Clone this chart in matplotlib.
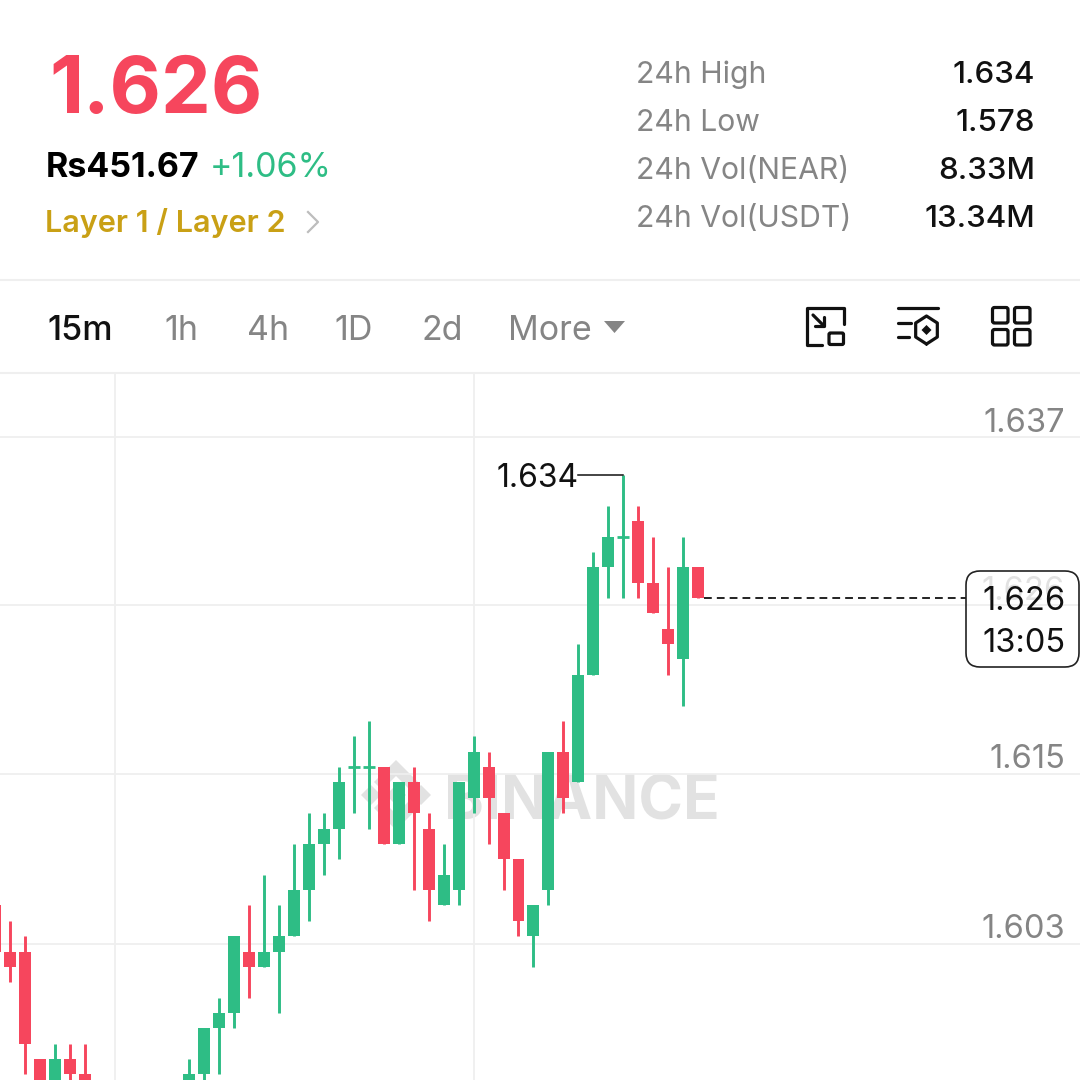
import numpy as np
import matplotlib
matplotlib.use("Agg")
import matplotlib.pyplot as plt
from matplotlib.patches import FancyBboxPatch, Polygon

plt.rcParams['font.family'] = ['Inter', 'DejaVu Sans']

# candle values (slots 7-12 are below the visible area)
slots = [0, 1, 2, 3, 4, 5, 6, 13, 14, 15, 16, 17, 18, 19, 20, 21, 22, 23, 24, 25, 26, 27,
         28, 29, 30, 31, 32, 33, 34, 35, 36, 37, 38, 39, 40, 41, 42, 43, 44, 45, 46, 47]
opens = [1.606, 1.603, 1.603, 1.596, 1.593, 1.596, 1.595, 1.593, 1.595, 1.598, 1.599, 1.603, 1.602, 1.603,
         1.604, 1.607, 1.610, 1.611, 1.615, 1.615, 1.615, 1.610, 1.614, 1.611, 1.606, 1.607, 1.613, 1.615,
         1.612, 1.609, 1.604, 1.607, 1.616, 1.614, 1.621, 1.628, 1.630, 1.631, 1.627, 1.624, 1.622, 1.628]
highs = [1.606, 1.605, 1.604, 1.596, 1.597, 1.597, 1.597, 1.596, 1.598, 1.600, 1.604, 1.606, 1.608, 1.606,
         1.610, 1.612, 1.612, 1.615, 1.617, 1.618, 1.615, 1.614, 1.615, 1.612, 1.610, 1.614, 1.617, 1.616,
         1.612, 1.609, 1.606, 1.616, 1.618, 1.623, 1.629, 1.632, 1.634, 1.632, 1.630, 1.628, 1.630, 1.628]
lows = [1.603, 1.601, 1.595, 1.593, 1.593, 1.593, 1.592, 1.593, 1.593, 1.595, 1.598, 1.600, 1.602, 1.599,
        1.604, 1.605, 1.608, 1.609, 1.612, 1.611, 1.610, 1.610, 1.607, 1.605, 1.606, 1.606, 1.612, 1.610,
        1.607, 1.604, 1.602, 1.606, 1.612, 1.614, 1.621, 1.626, 1.626, 1.626, 1.625, 1.621, 1.619, 1.626]
closes = [1.603, 1.602, 1.597, 1.593, 1.596, 1.595, 1.593, 1.595, 1.598, 1.599, 1.604, 1.602, 1.603, 1.604,
          1.607, 1.610, 1.611, 1.614, 1.615, 1.615, 1.610, 1.614, 1.612, 1.607, 1.608, 1.614, 1.616, 1.613,
          1.609, 1.605, 1.606, 1.616, 1.613, 1.621, 1.628, 1.630, 1.630, 1.627, 1.625, 1.623, 1.628, 1.626]

grid_prices = [1.63647, 1.62554, 1.61455, 1.60350]
grid_labels = ['1.637', '1.626', '1.615', '1.603']
time_grid_slots = [8, 32]

last_price = 1.626
day_high = 1.634
countdown = '13:05'

stat_names = ['24h High', '24h Low', '24h Vol(NEAR)', '24h Vol(USDT)']
stat_values = ['1.634', '1.578', '8.33M', '13.34M']
intervals = ['15m', '1h', '4h', '1D', '2d', 'More']
interval_x = [47, 164, 247, 334, 422, 508]

GREEN = '#2ebd85'
RED = '#f6465d'
GRID = '#efefef'
GREY = '#858585'
INK = '#111111'
MARK = '#e2e2e2'

fig = plt.figure(figsize=(10.8, 10.8), dpi=100)

# overlay in pixel coordinates for the page header and chrome
page = fig.add_axes([0, 0, 1, 1], zorder=1)
page.set_xlim(0, 1080)
page.set_ylim(1080, 0)
page.axis('off')

# chart area: y pixels 373-1080
chart = fig.add_axes([0, 0, 1, 707 / 1080], zorder=2)
chart.patch.set_alpha(0)
slot_px = 14.957
chart.set_xlim(5 / slot_px, (1080 + 5) / slot_px)
price_at = lambda y: 1.626 + (598 - y) / 15370
chart.set_ylim(price_at(1080), price_at(373))
chart.axis('off')

for p in grid_prices:
    chart.axhline(p, color=GRID, lw=1.3, zorder=1)
for s in time_grid_slots:
    chart.axvline(s, color=GRID, lw=1.3, zorder=1)

# watermark
page.text(582, 797, 'BINANCE', fontsize=43.5, fontweight='bold', color=MARK,
          ha='center', va='center_baseline', zorder=1)
logo = [
    [(396, 760), (418, 782), (410, 790), (396, 776), (382, 790), (374, 782)],
    [(396, 830), (418, 808), (410, 800), (396, 814), (382, 800), (374, 808)],
    [(386, 795), (396, 785), (406, 795), (396, 805)],
    [(361, 795), (371, 785), (381, 795), (371, 805)],
    [(411, 795), (421, 785), (431, 795), (421, 805)],
]
for pts in logo:
    page.add_patch(Polygon(pts, color=MARK, lw=0, zorder=1))

# candles
colors = [GREEN if c >= o else RED for o, c in zip(opens, closes)]
chart.vlines(slots, lows, highs, colors=colors, lw=2.1, zorder=3)
bottoms = [min(o, c) for o, c in zip(opens, closes)]
heights = [abs(o - c) for o, c in zip(opens, closes)]
chart.bar(slots, heights, bottom=bottoms, width=0.8, color=colors, lw=0, zorder=3)
for s, o, c, col in zip(slots, opens, closes, colors):
    if o == c:
        chart.hlines(o, s - 0.4, s + 0.4, color=col, lw=2.0, zorder=3)

# price labels on the right
for p, lab in zip(grid_prices, grid_labels):
    faded = lab == '1.626'
    chart.annotate(lab, (1065, p), xycoords=('figure pixels', 'data'), xytext=(0, 14),
                   textcoords='offset pixels', ha='right', va='center', fontsize=23.5,
                   color='#e2e2e2' if faded else GREY, zorder=2)

# high marker
hi_slot = slots[int(np.argmax(highs))]
chart.plot([hi_slot, hi_slot - 3.0], [day_high, day_high], color=INK, lw=1.1, zorder=4)
chart.annotate(f'{day_high:.3f}', (hi_slot - 3.0, day_high), xytext=(0, -3),
               textcoords='offset pixels', ha='right', va='center', fontsize=23, color=INK, zorder=4)

# last price line and tag
chart.plot([slots[-1] + 0.4, (966 + 5) / slot_px], [last_price, last_price], color='#222222',
           lw=1.4, dashes=(4, 2.6), zorder=4)
page2 = fig.add_axes([0, 0, 1, 1], zorder=3)
page2.set_xlim(0, 1080)
page2.set_ylim(1080, 0)
page2.axis('off')
page2.add_patch(FancyBboxPatch((976, 581), 93, 76, boxstyle='round,pad=10,rounding_size=14',
                               fc='none', ec='#222222', lw=1.2))
page2.text(1024, 602, f'{last_price:.3f}', fontsize=23.5, color=INK, ha='center', va='center')
page2.text(1024, 644, countdown, fontsize=23.5, color=INK, ha='center', va='center')

# header
page.text(49, 92, '1.626', fontsize=57, fontweight='bold', color=RED, va='center')
page.text(46, 168, 'Rs451.67', fontsize=24.5, fontweight='bold', color='black', va='center')
page.text(210, 168, '+1.06%', fontsize=24.5, color=GREEN, va='center')
page.text(45, 223, 'Layer 1 / Layer 2', fontsize=22, fontweight='semibold', color='#c9a015', va='center')
page.plot([308, 318, 308], [212, 222, 232], color='#bdbdbd', lw=1.6)

for y, name, val in zip([75, 123, 171, 219], stat_names, stat_values):
    page.text(636, y, name, fontsize=21.7, color=GREY, va='center')
    page.text(1035, y, val, fontsize=22.5, fontweight='medium', color=INK, ha='right', va='center')

page.plot([0, 1080], [280, 280], color=GRID, lw=1.5)
page.plot([0, 1080], [373, 373], color=GRID, lw=1.5)

# interval tabs
for i, (lab, x) in enumerate(zip(intervals, interval_x)):
    page.text(x, 331, lab, fontsize=24.5, color=INK if i == 0 else GREY,
              fontweight='medium' if i == 0 else 'normal', va='center')
page.add_patch(Polygon([(604, 321), (625, 321), (614.5, 333)], color=GREY, lw=0))

# toolbar icons
ik = dict(color=INK, lw=2.3, solid_capstyle='round', solid_joinstyle='round')
page.plot([822, 806.5, 806.5, 844, 844], [344.5, 344.5, 307.5, 307.5, 324], **ik)
page.add_patch(FancyBboxPatch((829, 333), 14.5, 11.5, boxstyle='round,pad=0,rounding_size=1.5',
                              fc='none', ec=INK, lw=2.3))
page.plot([813, 824], [315, 326], **ik)
page.plot([824, 824, 815], [317, 326, 326], **ik)

page.plot([898, 938], [308, 308], **ik)
page.plot([898, 911], [323, 323], **ik)
page.plot([898, 909], [337, 337], **ik)
ang = np.radians([90, 150, 210, 270, 330, 30, 90])
page.plot(926.5 + 12.5 * np.cos(ang), 330 + 14 * np.sin(ang), **ik)
page.add_patch(Polygon([(921.5, 330), (926.5, 325), (931.5, 330), (926.5, 335)], color=INK, lw=0))

for x0 in [992.5, 1014.5]:
    for y0 in [307.5, 329.5]:
        page.add_patch(FancyBboxPatch((x0, y0), 15.5, 15.5, boxstyle='round,pad=0,rounding_size=2',
                                      fc='none', ec=INK, lw=2.3))

fig.savefig('out.png', dpi=100, facecolor='white')
